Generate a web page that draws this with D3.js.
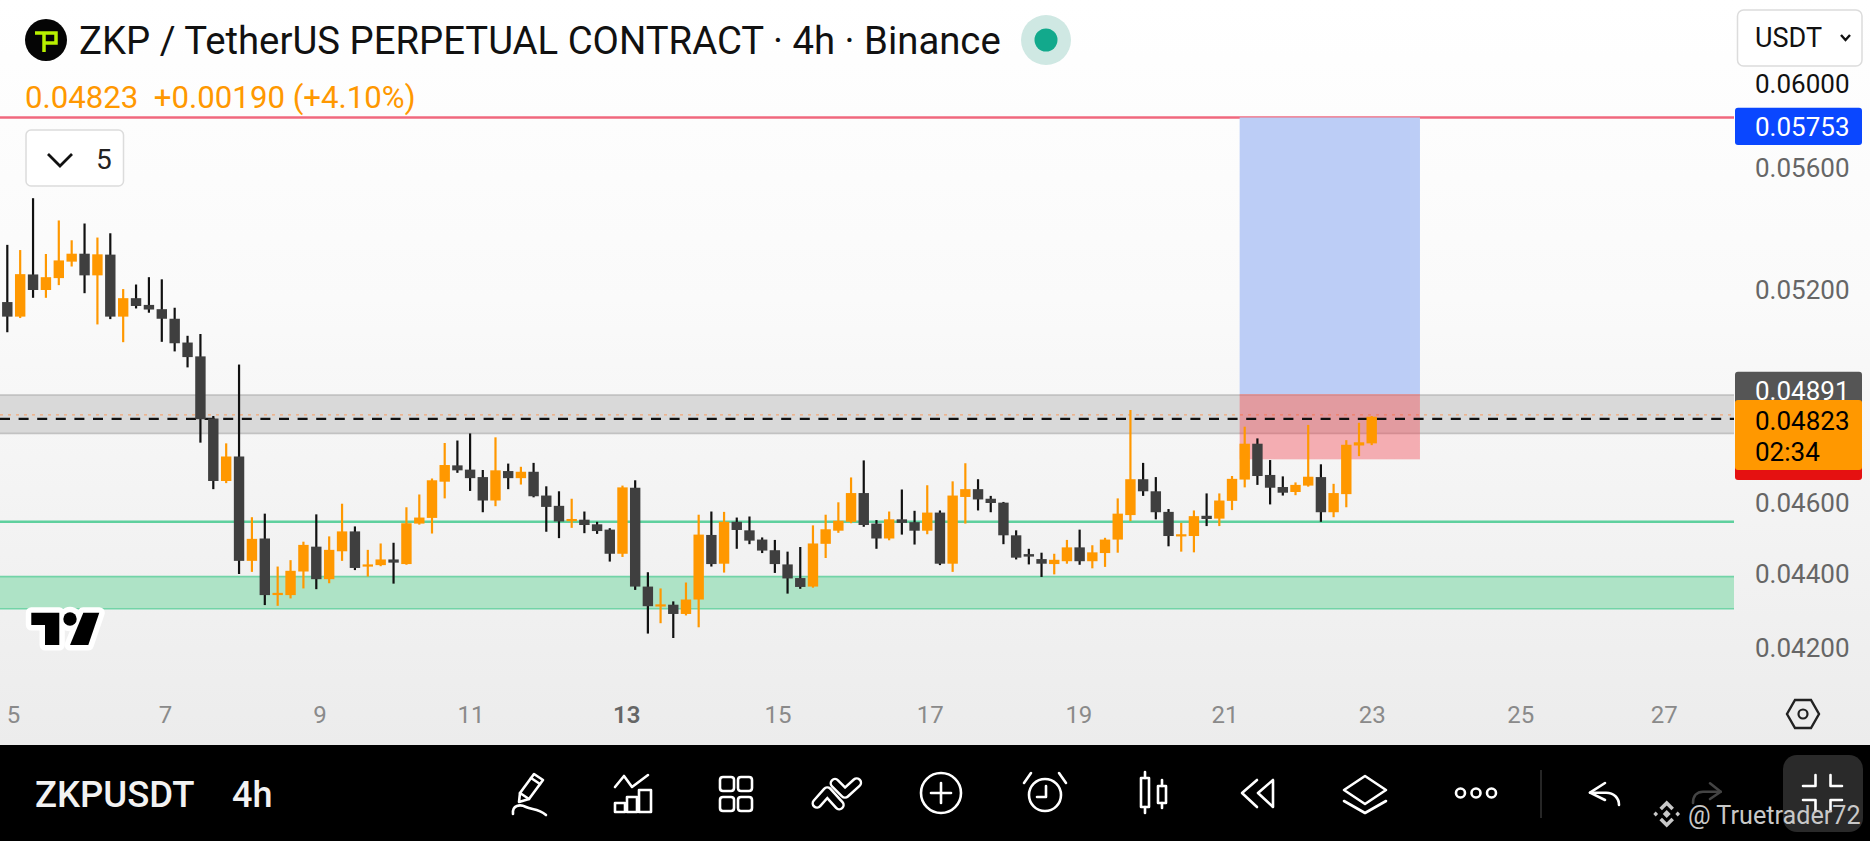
<!DOCTYPE html>
<html>
<head>
<meta charset="utf-8">
<script src="https://cdn.jsdelivr.net/npm/d3@7"></script>
<style>
    html, body { margin: 0; padding: 0; background: #fff; overflow: hidden; }
    text { font-family: Roboto, sans-serif; }
</style>
</head>
<body>
<div id="chart"></div>
<script>
var width = 1870;
var height = 841;
var plotRight = 1734;
var toolbarTop = 745;

// candles, 4h
var opens = [
    0.05166, 0.05125, 0.05251, 0.05200, 0.05239, 0.05293, 0.05319, 0.05248, 0.05316, 0.05125, 0.05177, 0.05158,
    0.05146, 0.05119, 0.05052, 0.05013, 0.04838, 0.04662, 0.04731, 0.04437, 0.04500, 0.04344, 0.04343, 0.04407,
    0.04477, 0.04386, 0.04464, 0.04520, 0.04421, 0.04425, 0.04441, 0.04428, 0.04542, 0.04558, 0.04660, 0.04706,
    0.04694, 0.04673, 0.04607, 0.04690, 0.04670, 0.04688, 0.04621, 0.04592, 0.04550, 0.04553, 0.04540, 0.04525,
    0.04457, 0.04643, 0.04366, 0.04313, 0.04317, 0.04292, 0.04331, 0.04510, 0.04429, 0.04547, 0.04523, 0.04497,
    0.04467, 0.04427, 0.04389, 0.04366, 0.04485, 0.04522, 0.04547, 0.04628, 0.04542, 0.04500, 0.04554, 0.04546,
    0.04522, 0.04573, 0.04429, 0.04617, 0.04639, 0.04612, 0.04601, 0.04509, 0.04456, 0.04442, 0.04428, 0.04436,
    0.04475, 0.04436, 0.04459, 0.04497, 0.04566, 0.04667, 0.04633, 0.04575, 0.04507, 0.04507, 0.04564, 0.04556,
    0.04606, 0.04666, 0.04767, 0.04679, 0.04645, 0.04631, 0.04649, 0.04673, 0.04574, 0.04625, 0.04762, 0.04768
];
var closes = [
    0.05125, 0.05252, 0.05200, 0.05242, 0.05297, 0.05319, 0.05248, 0.05317, 0.05125, 0.05177, 0.05155, 0.05145,
    0.05119, 0.05050, 0.05011, 0.04836, 0.04662, 0.04731, 0.04437, 0.04499, 0.04343, 0.04349, 0.04409, 0.04482,
    0.04386, 0.04468, 0.04520, 0.04417, 0.04427, 0.04441, 0.04432, 0.04543, 0.04559, 0.04664, 0.04707, 0.04692,
    0.04670, 0.04607, 0.04692, 0.04670, 0.04688, 0.04619, 0.04589, 0.04548, 0.04555, 0.04538, 0.04521, 0.04457,
    0.04644, 0.04366, 0.04313, 0.04318, 0.04292, 0.04331, 0.04511, 0.04428, 0.04547, 0.04524, 0.04494, 0.04466,
    0.04428, 0.04388, 0.04365, 0.04486, 0.04526, 0.04550, 0.04628, 0.04538, 0.04500, 0.04554, 0.04544, 0.04522,
    0.04573, 0.04429, 0.04621, 0.04639, 0.04610, 0.04600, 0.04509, 0.04446, 0.04449, 0.04429, 0.04440, 0.04475,
    0.04436, 0.04461, 0.04497, 0.04570, 0.04667, 0.04633, 0.04574, 0.04507, 0.04512, 0.04563, 0.04555, 0.04607,
    0.04668, 0.04767, 0.04676, 0.04643, 0.04629, 0.04651, 0.04674, 0.04574, 0.04628, 0.04764, 0.04771, 0.04843
];
var highs = [
    0.05348, 0.05331, 0.05501, 0.05318, 0.05428, 0.05363, 0.05418, 0.05372, 0.05386, 0.05203, 0.05218, 0.05242,
    0.05235, 0.05150, 0.05071, 0.05076, 0.04845, 0.04768, 0.04990, 0.04560, 0.04570, 0.04421, 0.04439, 0.04491,
    0.04568, 0.04506, 0.04598, 0.04534, 0.04468, 0.04486, 0.04488, 0.04588, 0.04624, 0.04669, 0.04769, 0.04776,
    0.04796, 0.04693, 0.04785, 0.04711, 0.04702, 0.04713, 0.04647, 0.04633, 0.04612, 0.04576, 0.04547, 0.04529,
    0.04649, 0.04664, 0.04405, 0.04361, 0.04326, 0.04377, 0.04567, 0.04576, 0.04575, 0.04559, 0.04562, 0.04503,
    0.04496, 0.04463, 0.04476, 0.04537, 0.04567, 0.04602, 0.04672, 0.04720, 0.04552, 0.04576, 0.04638, 0.04578,
    0.04650, 0.04579, 0.04661, 0.04712, 0.04667, 0.04620, 0.04603, 0.04523, 0.04471, 0.04460, 0.04457, 0.04496,
    0.04525, 0.04481, 0.04502, 0.04613, 0.04862, 0.04713, 0.04673, 0.04583, 0.04544, 0.04579, 0.04627, 0.04627,
    0.04676, 0.04815, 0.04782, 0.04721, 0.04675, 0.04658, 0.04820, 0.04709, 0.04654, 0.04777, 0.04826, 0.04845
];
var lows = [
    0.05081, 0.05121, 0.05178, 0.05178, 0.05216, 0.05277, 0.05191, 0.05103, 0.05118, 0.05053, 0.05148, 0.05136,
    0.05054, 0.05027, 0.04982, 0.04770, 0.04639, 0.04656, 0.04400, 0.04406, 0.04316, 0.04314, 0.04334, 0.04361,
    0.04359, 0.04375, 0.04437, 0.04411, 0.04393, 0.04422, 0.04374, 0.04426, 0.04539, 0.04514, 0.04613, 0.04685,
    0.04634, 0.04574, 0.04591, 0.04639, 0.04652, 0.04616, 0.04519, 0.04501, 0.04530, 0.04515, 0.04513, 0.04435,
    0.04448, 0.04357, 0.04239, 0.04267, 0.04227, 0.04288, 0.04256, 0.04421, 0.04404, 0.04471, 0.04484, 0.04459,
    0.04403, 0.04347, 0.04360, 0.04363, 0.04445, 0.04516, 0.04543, 0.04533, 0.04471, 0.04495, 0.04511, 0.04483,
    0.04512, 0.04425, 0.04406, 0.04542, 0.04579, 0.04574, 0.04484, 0.04441, 0.04427, 0.04392, 0.04399, 0.04429,
    0.04426, 0.04416, 0.04420, 0.04460, 0.04549, 0.04620, 0.04554, 0.04478, 0.04463, 0.04461, 0.04535, 0.04535,
    0.04580, 0.04644, 0.04651, 0.04596, 0.04621, 0.04622, 0.04646, 0.04547, 0.04560, 0.04588, 0.04732, 0.04763
];

// price axis
var priceTicks = [0.06, 0.056, 0.052, 0.046, 0.044, 0.042];
var priceKnots = [0.042, 0.044, 0.052, 0.056, 0.05753, 0.06];

// date axis, position as candle index
var dayLabels = [5, 7, 9, 11, 13, 15, 17, 19, 21, 23, 25, 27];
var dayIndex = [0.44, 12.25, 24.25, 36.04, 48.3, 60.2, 72.2, 83.9, 95.4, 107, 118.7, 130];

// drawn levels
var stopLine = 0.05753;
var greyZone = [0.04904, 0.04796];
var priceLine = 0.04837;
var orangeLine = 0.04848;
var greenLine = 0.04547;
var greenZone = [0.04393, 0.04306];
var positionFrom = 96.6;
var positionTo = 110.8;
var positionEntry = 0.04907;
var positionStop = 0.04723;

var y = d3.scaleLinear().domain(priceKnots).range([648, 574, 290, 168, 117.5, 84]);
var x = d3.scaleLinear().domain([0, 32, 107]).range([7.3, 419.3, 1371.7]);

var svg = d3.select('#chart').append('svg')
    .attr('width', width)
    .attr('height', height)
    .style('display', 'block');

var grad = svg.append('defs').append('linearGradient')
    .attr('id', 'bg').attr('x1', 0).attr('x2', 0).attr('y1', 0).attr('y2', 1);
grad.append('stop').attr('offset', '0%').attr('stop-color', '#ffffff');
grad.append('stop').attr('offset', '40%').attr('stop-color', '#fafafa');
grad.append('stop').attr('offset', '100%').attr('stop-color', '#ececec');

svg.append('rect')
    .attr('width', width).attr('height', toolbarTop)
    .attr('fill', 'url(#bg)');

function zone(values, fill, stroke) {
    svg.append('rect')
        .attr('x', 0).attr('width', plotRight)
        .attr('y', y(values[0])).attr('height', y(values[1]) - y(values[0]))
        .attr('fill', fill);
    values.forEach(function (v) {
        svg.append('line')
            .attr('x1', 0).attr('x2', plotRight)
            .attr('y1', y(v)).attr('y2', y(v))
            .attr('stroke', stroke).attr('stroke-width', 1.6);
    });
}

function hline(v, color, w, dash) {
    svg.append('line')
        .attr('x1', 0).attr('x2', plotRight)
        .attr('y1', y(v)).attr('y2', y(v))
        .attr('stroke', color).attr('stroke-width', w)
        .attr('stroke-dasharray', dash || null);
}

zone(greyZone, '#d9d9d9', '#c2c2c2');
zone(greenZone, '#aee3c6', '#72d4a7');
hline(greenLine, '#5fd09e', 2.4);
hline(stopLine, '#f0687e', 2.4);
hline(orangeLine, '#f2a877', 1.2, '3 5');

// long position box
svg.append('rect')
    .attr('x', x(positionFrom)).attr('width', x(positionTo) - x(positionFrom))
    .attr('y', y(stopLine)).attr('height', y(positionEntry) - y(stopLine))
    .attr('fill', '#bccdf6');
svg.append('rect')
    .attr('x', x(positionFrom)).attr('width', x(positionTo) - x(positionFrom))
    .attr('y', y(positionEntry)).attr('height', y(positionStop) - y(positionEntry))
    .attr('fill', '#f23645').attr('fill-opacity', 0.38);

hline(priceLine, '#111', 2.2, '10 8.6');

// candles
var candles = d3.range(opens.length).map(function (i) {
    return { i: i, o: opens[i], h: highs[i], l: lows[i], c: closes[i] };
});
var orange = '#ff9800';
var bodyDark = '#3f3f3f';
var wickDark = '#111111';

var candle = svg.append('g').selectAll('g')
    .data(candles)
    .enter()
    .append('g');

candle.append('line')
    .attr('x1', function (d) { return x(d.i); })
    .attr('x2', function (d) { return x(d.i); })
    .attr('y1', function (d) { return y(d.h); })
    .attr('y2', function (d) { return y(d.l); })
    .attr('stroke', function (d) { return d.c >= d.o ? orange : wickDark; })
    .attr('stroke-width', 2.2);

candle.append('rect')
    .attr('x', function (d) { return x(d.i) - 5.2; })
    .attr('width', 10.4)
    .attr('y', function (d) { return y(Math.max(d.o, d.c)); })
    .attr('height', function (d) { return Math.max(2.2, Math.abs(y(d.o) - y(d.c))); })
    .attr('fill', function (d) { return d.c >= d.o ? orange : bodyDark; });

// date axis
var dateAxis = d3.axisBottom(x)
    .tickValues(dayIndex)
    .tickSize(0)
    .tickFormat(function (d, i) { return dayLabels[i]; });
var dateG = svg.append('g')
    .attr('transform', 'translate(0,' + 714 + ')')
    .call(dateAxis);
dateG.select('.domain').remove();
dateG.selectAll('text')
    .attr('y', 0).attr('dy', '0.36em')
    .attr('font-size', 24)
    .attr('font-family', 'Roboto')
    .attr('fill', function (d, i) { return dayLabels[i] === 13 ? '#666' : '#8a8a8a'; })
    .attr('font-weight', function (d, i) { return dayLabels[i] === 13 ? 600 : 400; });

// price axis
var priceAxis = d3.axisRight(y)
    .tickValues(priceTicks)
    .tickSize(0)
    .tickPadding(0)
    .tickFormat(d3.format('.5f'));
var priceG = svg.append('g')
    .attr('transform', 'translate(1755,0)')
    .call(priceAxis);
priceG.select('.domain').remove();
priceG.selectAll('text')
    .attr('font-size', 26)
    .attr('font-family', 'Roboto')
    .attr('fill', function (d) { return d === 0.06 ? '#111' : '#666'; });

// price chips on the axis
function chip(top, bottom, fill) {
    svg.append('rect')
        .attr('x', 1735).attr('width', 127)
        .attr('y', top).attr('height', bottom - top)
        .attr('rx', 3)
        .attr('fill', fill);
}
function chipText(label, cy, fill) {
    svg.append('text')
        .attr('x', 1755).attr('y', cy).attr('dy', '0.36em')
        .attr('font-size', 26).attr('fill', fill)
        .text(label);
}
chip(107.7, 145, '#0a47ff');
chipText('0.05753', 127, '#fff');
chip(371.7, 404, '#555555');
chipText('0.04891', 390.7, '#fff');
chip(440, 480, '#e51111');
chip(400, 470, orange);
chipText('0.04823', 420.7, '#000');
chipText('02:34', 452, '#000');

// header
svg.append('circle').attr('cx', 46).attr('cy', 40).attr('r', 21).attr('fill', '#050505');
svg.append('path')
    .attr('d', 'M35 33 H56 V43 H44 M44 33 V52')
    .attr('fill', 'none').attr('stroke', '#b8f000').attr('stroke-width', 3.5);
svg.append('text')
    .attr('x', 79).attr('y', 40).attr('dy', '0.36em')
    .attr('font-size', 38.3).attr('fill', '#111')
    .text('ZKP / TetherUS PERPETUAL CONTRACT · 4h · Binance');
svg.append('circle').attr('cx', 1046).attr('cy', 40).attr('r', 25).attr('fill', '#cfe8e3');
svg.append('circle').attr('cx', 1046).attr('cy', 40).attr('r', 11.5).attr('fill', '#12a98c');
svg.append('text')
    .attr('x', 25).attr('y', 97).attr('dy', '0.36em')
    .attr('font-size', 31.2).attr('fill', orange)
    .attr('xml:space', 'preserve')
    .style('white-space', 'pre')
    .text('0.04823  +0.00190 (+4.10%)');

// legend toggle
svg.append('rect')
    .attr('x', 26).attr('y', 130).attr('width', 97.5).attr('height', 56).attr('rx', 5)
    .attr('fill', '#fff').attr('stroke', '#dcdcdc').attr('stroke-width', 1.5);
svg.append('path')
    .attr('d', 'M48 154 L60 166 L72 154')
    .attr('fill', 'none').attr('stroke', '#111').attr('stroke-width', 2.8);
svg.append('text')
    .attr('x', 96).attr('y', 159).attr('dy', '0.36em')
    .attr('font-size', 28).attr('fill', '#222')
    .text('5');

// currency box
svg.append('rect')
    .attr('x', 1737.5).attr('y', 10).attr('width', 124.5).attr('height', 56).attr('rx', 6)
    .attr('fill', '#fff').attr('stroke', '#dcdcdc').attr('stroke-width', 1.5);
svg.append('text')
    .attr('x', 1755).attr('y', 37).attr('dy', '0.36em')
    .attr('font-size', 27).attr('fill', '#111')
    .text('USDT');
svg.append('path')
    .attr('d', 'M1841 35 L1845.5 40 L1850 35')
    .attr('fill', 'none').attr('stroke', '#111').attr('stroke-width', 2.4);

// settings hex
svg.append('path')
    .attr('d', 'M1795 700 H1811 L1819 714 L1811 728 H1795 L1787 714 Z')
    .attr('fill', 'none').attr('stroke', '#222').attr('stroke-width', 2.4);
svg.append('circle').attr('cx', 1803).attr('cy', 714).attr('r', 4.5)
    .attr('fill', 'none').attr('stroke', '#222').attr('stroke-width', 2.2);

// tradingview mark, white halo first
var tvPaths = [
    'M31.3 612.7 H59.3 V645 H45 V625 H31.3 Z',
    'M83.3 612.7 H99.3 L88.3 645 H70 Z',
    'M76.7 619 A6.7 6.7 0 1 1 63.3 619 A6.7 6.7 0 1 1 76.7 619 Z'
];
tvPaths.forEach(function (d) {
    svg.append('path').attr('d', d)
        .attr('fill', '#fff').attr('stroke', '#fff')
        .attr('stroke-width', 11).attr('stroke-linejoin', 'round');
});
tvPaths.forEach(function (d) {
    svg.append('path').attr('d', d).attr('fill', '#000');
});

// bottom toolbar
svg.append('rect')
    .attr('x', 0).attr('y', toolbarTop).attr('width', width).attr('height', height - toolbarTop)
    .attr('fill', '#000');
svg.append('text')
    .attr('x', 35).attr('y', 794).attr('dy', '0.36em')
    .attr('font-size', 36.5).attr('font-weight', 500).attr('fill', '#f2f2f2')
    .text('ZKPUSDT');
svg.append('text')
    .attr('x', 232).attr('y', 794).attr('dy', '0.36em')
    .attr('font-size', 36).attr('font-weight', 500).attr('fill', '#f2f2f2')
    .text('4h');

function icon(cx, cy, paths, color) {
    var g = svg.append('g')
        .attr('transform', 'translate(' + cx + ',' + cy + ')')
        .attr('fill', 'none')
        .attr('stroke', color || '#fff')
        .attr('stroke-width', 2.6)
        .attr('stroke-linejoin', 'round')
        .attr('stroke-linecap', 'round');
    paths.forEach(function (d) { g.append('path').attr('d', d); });
}

// outlined chevron: wide white stroke with a black one on top
function hollowStroke(cx, cy, d) {
    var g = svg.append('g')
        .attr('transform', 'translate(' + cx + ',' + cy + ')')
        .attr('fill', 'none')
        .attr('stroke-linejoin', 'round')
        .attr('stroke-linecap', 'round');
    g.append('path').attr('d', d).attr('stroke', '#fff').attr('stroke-width', 11);
    g.append('path').attr('d', d).attr('stroke', '#000').attr('stroke-width', 6);
}

icon(528, 793, ['M-9 9 L-8 0 L6 -19 L15 -13 L1 6 Z', 'M3 -15 L12 -9', 'M-8 0 L1 6', 'M-15 21 C-16 12 -8 11 -2 14 C4 17 10 15 18 22']);
icon(633, 793, ['M-18 -6 L-9 -17 L-1 -6 L15 -18', 'M-18 10 H-8 V19 H-18 Z', 'M-6 4 H4 V19 H-6 Z', 'M6 -3 H18 V19 H6 Z']);
icon(736, 794, ['M-13 -17 H-5 Q-2 -17 -2 -14 V-6 Q-2 -3 -5 -3 H-13 Q-16 -3 -16 -6 V-14 Q-16 -17 -13 -17 Z',
    'M5 -17 H13 Q16 -17 16 -14 V-6 Q16 -3 13 -3 H5 Q2 -3 2 -6 V-14 Q2 -17 5 -17 Z',
    'M-13 3 H-5 Q-2 3 -2 6 V14 Q-2 17 -5 17 H-13 Q-16 17 -16 14 V6 Q-16 3 -13 3 Z',
    'M5 3 H13 Q16 3 16 6 V14 Q16 17 13 17 H5 Q2 17 2 14 V6 Q2 3 5 3 Z']);
hollowStroke(838, 793, 'M-21 10.3 L-10.7 -1.3 L1.3 12');
hollowStroke(838, 793, 'M-3 -9.7 L7 0.3 L18.7 -10.3');
icon(941, 793, ['M-20 0 A20 20 0 1 1 20 0 A20 20 0 1 1 -20 0 Z', 'M-10 0 H10', 'M0 -10 V10']);
icon(1045, 793, ['M-16 2 A16 16 0 1 1 16 2 A16 16 0 1 1 -16 2 Z', 'M1 -7 V4 H-8', 'M-21 -10 L-14 -20', 'M21 -10 L14 -20']);
icon(1153, 793, ['M-8 -21 V-15', 'M-8 14 V20', 'M-12 -15 H-4 V14 H-12 Z', 'M9 -13 V-7', 'M9 10 V15', 'M5 -7 H13 V10 H5 Z']);
icon(1257, 793, ['M0 -13 L-15 0 L0 14', 'M16 -13 V14 L1 0 Z']);
icon(1365, 793, ['M0 -17 L21 -3 L0 11 L-21 -3 Z', 'M-21 8 L0 20 L21 8']);
icon(1476, 793, ['M-20 0 A4.5 4.5 0 1 1 -11 0 A4.5 4.5 0 1 1 -20 0 Z', 'M-4.5 0 A4.5 4.5 0 1 1 4.5 0 A4.5 4.5 0 1 1 -4.5 0 Z', 'M11 0 A4.5 4.5 0 1 1 20 0 A4.5 4.5 0 1 1 11 0 Z']);
svg.append('line')
    .attr('x1', 1541).attr('x2', 1541).attr('y1', 770).attr('y2', 818)
    .attr('stroke', '#333').attr('stroke-width', 1.5);
icon(1603, 793, ['M2 -10 L-13 -0.3 L2 7', 'M-13 -0.3 H3 C11 -0.3 16 5 16 12']);
icon(1707, 793, ['M3 -9.7 L13.7 -1.3 L3 6', 'M13.7 -1.3 H-4 C-10 -1.3 -14 3 -14 10'], '#444');

svg.append('rect')
    .attr('x', 1783).attr('y', 755).attr('width', 80).attr('height', 77).attr('rx', 14)
    .attr('fill', '#2a2a2a');
icon(1823, 793, ['M-7.5 -18 V-7 H-20', 'M7.5 -18 V-7 H19', 'M-7.5 18 V7 H-20', 'M7.5 18 V7 H19']);

// watermark
var mark = svg.append('g').attr('transform', 'translate(1666.7,814)');
mark.append('path')
    .attr('d', 'M-6 -5 L0 -11 L6 -5 M-6 5 L0 11 L6 5')
    .attr('fill', 'none').attr('stroke', '#c8c8c8').attr('stroke-width', 3.6);
mark.selectAll('rect')
    .data([[0, 0, 2.8], [-11, 0, 1.7], [11, 0, 1.7]])
    .enter()
    .append('rect')
    .attr('x', function (d) { return d[0] - d[2]; })
    .attr('y', function (d) { return d[1] - d[2]; })
    .attr('width', function (d) { return d[2] * 2; })
    .attr('height', function (d) { return d[2] * 2; })
    .attr('fill', '#c8c8c8')
    .attr('transform', function (d) { return 'rotate(45,' + d[0] + ',' + d[1] + ')'; });
svg.append('text')
    .attr('x', 1688).attr('y', 815).attr('dy', '0.36em')
    .attr('font-size', 25.2).attr('fill', '#c8c8c8')
    .text('@ Truetrader72');
</script>
</body>
</html>
